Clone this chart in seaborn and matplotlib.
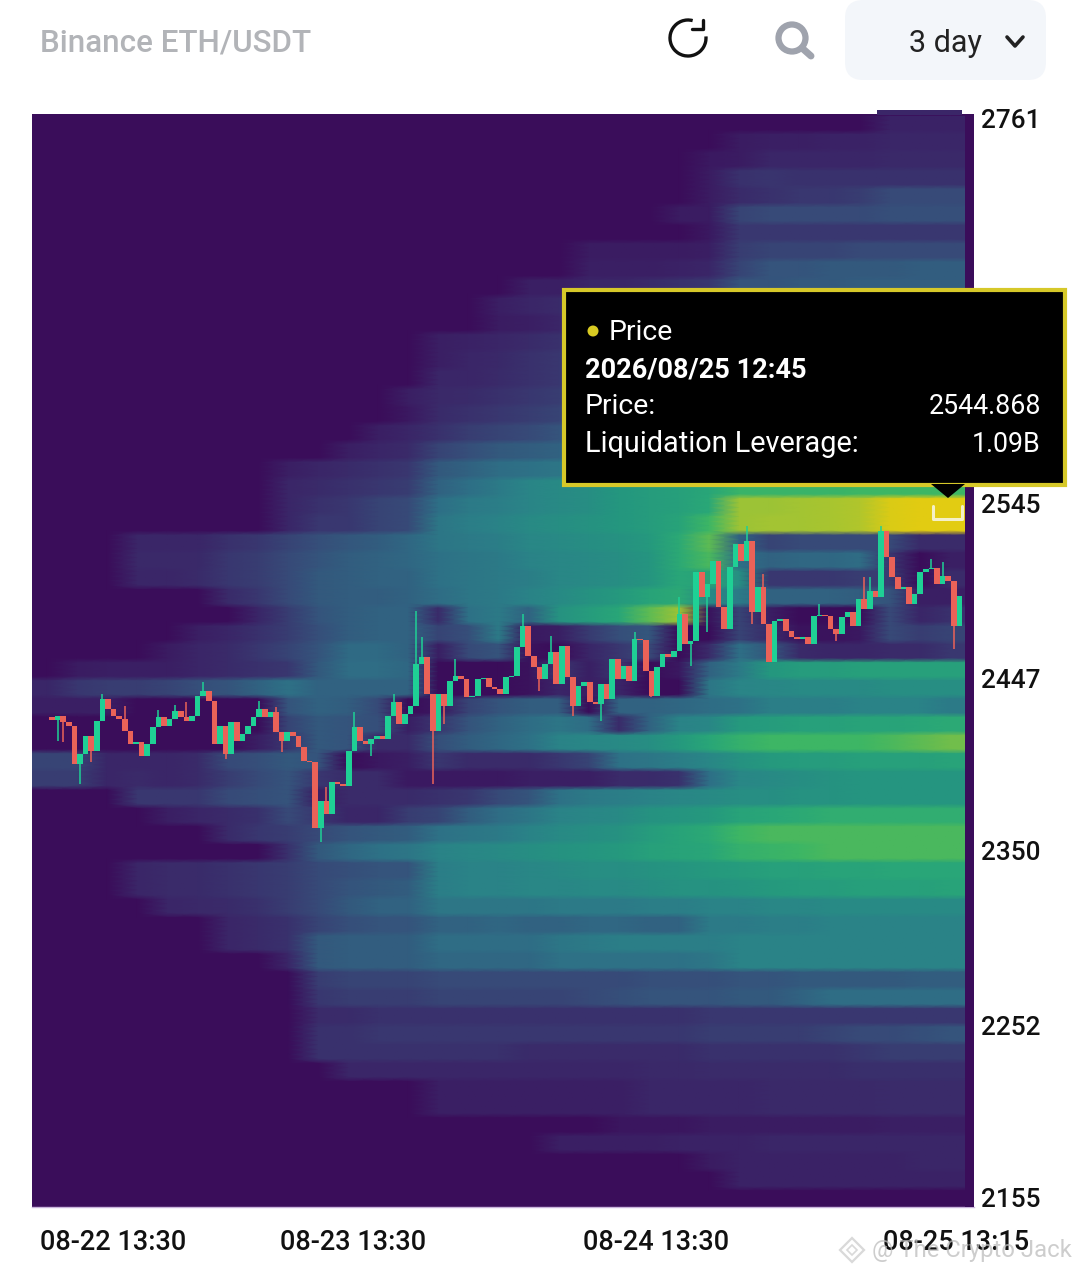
import numpy as np
import pandas as pd
import matplotlib
matplotlib.use("Agg")
import matplotlib.pyplot as plt
import seaborn as sns
from matplotlib.colors import LinearSegmentedColormap
from matplotlib.patches import Arc, Circle, FancyBboxPatch, Polygon, Rectangle

# Liquidation heat, top price band first, about 30 time columns per row (0-100)
heat_rows = [
    [0]*28+[7,7,7],
    [0]*22+[0,5,6,6,7,7,8,8,8],
    [0]*22+[4,5,8,8,8,8,9,9,9],
    [0]*22+[5,12,13,12,12,12,12,12,12],
    [0]*22+[5,10,12,14,14,16,20,20,20],
    [0]*21+[5,5,18,20,20,20,20,22,22,22],
    [0]*21+[0,4,14,14,14,14,14,14,14,14],
    [0]*18+[5,5,5,5,6,16,18,18,18,20,20,20,20],
    [0]*18+[6,6,6,7,8,18,24,24,26,26,26,28,28],
    [0]*16+[6,6,8,8,10,12,14,24,24,26,26,28,28,28,28],
    [0]*15+[6,8,10,12,14,18,20,24,26,26,28,28,28,30,30,30],
    [0]*15+[5,6,8,10,12,16,18,22,24,24,26,28,28,30,30,30],
    [0]*13+[6,7,8,10,12,14,18,20,22,24,26,28,28,28,30,30,30,30],
    [0]*13+[6,8,9,12,14,16,20,22,24,26,28,30,30,30,32,32,32,32],
    [0]*13+[8,8,10,12,14,16,20,22,24,26,28,30,30,30,32,32,32,32],
    [0]*12+[6,9,10,12,14,16,18,20,22,24,26,28,30,30,30,32,32,34,34],
    [0]*12+[4,10,12,14,16,18,20,24,26,26,28,30,32,32,34,34,34,36,36],
    [0]*11+[6,8,12,16,18,20,24,26,28,30,32,34,36,38,38,40,40,42,42,44],
    [0]*10+[6,8,10,18,22,26,28,30,34,38,40,44,46,48,50,50,52,52,54,56,58],
    [0]*8+[6,8,10,12,14,26,30,34,36,38,42,46,52,56,60,62,64,64,66,66,68,68,70],
    [0]*8+[8,10,12,14,16,30,35,40,45,48,50,55,58,60,64,72,72,72,72,74,74,74,74],
    [0]*8+[8,12,14,18,20,35,40,42,45,48,50,55,58,60,65,84,84,85,86,88,98,100,100],
    [0]*8+[8,14,14,18,20,38,42,44,48,50,52,55,58,62,74,84,85,85,86,88,98,100,100],
    [0,0,0,8,8,8,12,14,18,22,25,28,32,38,40,42,46,48,50,52,56,66,78,30,18,20,20,20,20,10,10],
    [0,0,0,9,9,9,14,16,20,24,28,30,32,36,38,40,44,46,48,50,54,66,76,35,30,32,32,34,14,0,6],
    [0,0,0,8,8,10,14,16,20,26,28,30,30,36,38,40,42,46,48,50,54,64,62,50,14,14,14,16,16,0,10],
    [0,0,0,0,0,0,10,14,20,26,28,28,30,34,38,40,44,48,52,56,62,66,48,40,30,30,30,28,24,6,6],
    [0,0,0,0,0,0,0,8,16,24,28,30,30,10,36,40,30,52,58,64,78,84,2,18,6,0,0,0,20,8,12],
    [0,0,0,0,0,6,8,12,16,22,28,30,30,18,22,40,4,6,15,22,25,0,0,18,10,2,2,4,20,16,18],
    [0,0,0,0,5,8,10,14,18,24,33,33,30,6,20,24,2,0,8,14,20,0,10,35,25,10,8,8,10,10,14],
    [0,5,6,6,6,8,10,12,14,26,34,34,32,0,0,0,2,14,6,14,0,4,30,40,55,58,58,60,60,60,60],
    [8,14,16,16,18,22,24,30,36,30,30,30,30,0,0,0,2,8,6,8,0,0,38,45,46,48,48,48,50,50,50],
    [6,6,6,0,0,0,0,0,24,30,28,20,0,4,18,24,28,28,0,30,30,32,34,36,42,42,42,44,44,44,40],
    [0,0,0,0,0,0,0,0,18,26,24,22,6,14,24,30,34,38,34,10,30,44,46,56,58,60,60,62,62,64,66],
    [0,0,0,0,0,0,0,6,14,26,24,10,10,22,28,32,36,44,46,48,50,56,64,70,74,74,74,74,76,78,80],
    [18,18,8,8,8,10,20,22,26,24,0,4,6,14,10,10,10,14,18,36,38,42,46,52,56,58,58,60,60,60,62],
    [16,16,8,10,8,10,16,20,24,14,10,10,4,4,4,4,6,6,6,10,10,12,35,46,48,50,52,54,54,54,54],
    [0,0,0,14,14,14,20,22,24,6,10,10,10,12,14,20,24,36,40,42,44,46,48,50,50,52,52,54,54,54,54],
    [0,0,0,0,6,8,10,12,20,14,8,8,16,18,28,34,38,44,46,48,52,54,56,62,64,66,68,68,68,68,68],
    [0,0,0,0,0,0,10,14,16,20,24,26,28,36,38,40,44,48,50,52,58,62,66,74,76,76,76,76,76,76,76],
    [0,0,0,0,0,0,0,0,12,26,32,36,38,44,46,48,50,52,54,56,60,62,64,70,72,74,76,76,76,76,76],
    [0,0,0,8,10,10,12,14,16,20,22,24,24,42,44,44,46,48,50,50,52,54,56,58,60,60,62,62,64,64,64],
    [0,0,0,8,10,10,12,14,16,20,24,26,28,42,44,44,46,46,48,48,50,52,52,54,56,58,58,60,60,60,62],
    [0,0,0,0,8,9,10,12,16,20,26,30,30,38,38,38,38,40,40,40,42,42,44,44,46,46,48,48,48,48,48],
    [0,0,0,0,0,0,8,10,12,18,22,24,24,30,30,32,30,30,32,32,30,30,40,40,42,42,44,44,44,44,44],
    [0,0,0,0,0,0,8,10,12,26,28,28,28,34,34,34,34,38,40,42,42,42,42,44,44,44,44,44,44,44,44],
    [0,0,0,0,0,0,0,0,8,26,28,28,28,32,32,32,32,36,36,36,36,36,38,44,44,44,44,44,44,44,44],
    [0]*9+[16,18,18,18,20,20,20,20,20,20,20,22,22,22,24,24,26,26,26,26,28,28],
    [0]*9+[14,16,16,16,18,18,18,18,18,20,22,24,24,24,26,26,30,34,34,34,34,34],
    [0]*9+[10,10,12,12,12,12,12,12,12,12,12,12,12,14,14,14,14,14,14,14,14,14],
    [0]*9+[12,12,14,14,14,14,14,14,14,14,14,14,14,16,16,16,16,18,20,20,22,24],
    [0]*9+[12,12,12,12,12,12,12,10,10,10,10,10,10,12,12,12,12,12,14,16,16,16],
    [0]*9+[0,8,8,8,8,8,8,8,8,8,8,9,9,10,10,10,10,10,11,11,11,11],
    [0]*13+[6,6,6,6,6,6,6,8,8,8,8,9,9,9,9,10,10,10],
    [0]*13+[6,6,6,6,6,6,6,8,8,8,8,9,9,9,9,10,10,10],
    [0]*19+[3,3,3,5,5,5,5,5,5,6,6,6],
    [0]*17+[6,6,6,6,7,7,7,8,8,8,8,8,8,8],
    [0]*22+[5,7,7,7,7,7,7,8,8],
    [0]*23+[7,7,7,7,7,7,7,7],
    [0]*31,
]

first_open = 2425
closes = [
    2423.4, 2425.9, 2422.1, 2420.3, 2398.7, 2404.3, 2414.6, 2406.2, 2423.1, 2435.2,
    2429.6, 2425.9, 2424, 2417.5, 2410, 2410.9, 2403.4, 2410, 2419.3, 2425,
    2420.3, 2424, 2428.7, 2425, 2423.1, 2425.9, 2437.1, 2439.9, 2434.3, 2410,
    2420.3, 2404.3, 2422.1, 2411.8, 2415.6, 2420.3, 2425, 2429.6, 2425, 2427.8,
    2416.5, 2411.8, 2416.5, 2414.6, 2408.1, 2400.6, 2400, 2363, 2378.1, 2370.6,
    2388.4, 2387.5, 2386.5, 2406.2, 2419.3, 2411.8, 2409.9, 2412.7, 2414.6, 2412.7,
    2425.8, 2433.3, 2421.2, 2426.8, 2431.5, 2454.9, 2458.6, 2438, 2417.4, 2438,
    2431.5, 2445.5, 2448.3, 2446.4, 2436.1, 2437.1, 2446.4, 2446.8, 2441.8, 2440.8,
    2438, 2447.4, 2448.3, 2464.2, 2476.4, 2459.6, 2453, 2446.4, 2454.9, 2461.4,
    2443.6, 2465.2, 2447.4, 2431.5, 2442.7, 2444.6, 2433.3, 2432.4, 2443.6, 2435.2,
    2457.7, 2446.4, 2453.9, 2445.5, 2468.9, 2468.4, 2451.1, 2437.1, 2453, 2460.5,
    2458.6, 2462.4, 2483, 2466.1, 2468, 2506.4, 2492.3, 2499.8, 2512.9, 2486.7,
    2474.6, 2509.2, 2522.3, 2512.9, 2524.2, 2483.9, 2498, 2477.4, 2455.8, 2479.2,
    2480.2, 2473.6, 2469.9, 2468.9, 2469.9, 2466.1, 2482, 2482.4, 2482, 2474.6,
    2471.7, 2481.1, 2483.9, 2476.4, 2491.4, 2485.8, 2496.1, 2492.3, 2529.8, 2514.8,
    2503.6, 2497, 2498, 2488.6, 2494.2, 2506.4, 2508.3, 2508.8, 2499.8, 2504.5,
    2501.7, 2476.4, 2493.3,
]

# only the wicks that stick out enough to read
wick_candles = [1, 2, 5, 7, 9, 13, 19, 22, 24, 27, 31, 37, 40, 41, 48, 49, 54, 57, 61, 65, 66, 68, 70, 72,
                84, 87, 89, 93, 98, 104, 107, 112, 114, 117, 124, 125, 127, 137, 140, 145, 146, 148, 157, 159, 161]
wick_ends = [2411.8, 2411, 2387.5, 2400, 2438, 2431.5, 2429, 2432, 2433.4, 2444.6, 2401.5, 2434.3, 2431, 2405.3,
             2354.7, 2385.6, 2427.7, 2403.4, 2438, 2484.8, 2469.9, 2387.4, 2421.2, 2457.7,
             2483, 2439.9, 2470.8, 2425.8, 2423, 2472.6, 2436.1, 2492.3, 2453.9, 2472.7, 2532.6, 2477.4,
             2505.5, 2488.6, 2468, 2503.6, 2503.6, 2532.6, 2513.9, 2512, 2463.3]

price_ticks = [2761, 2545, 2447, 2350, 2252, 2155]
time_labels = ["08-22 13:30", "08-23 13:30", "08-24 13:30", "08-25 13:15"]
time_label_candles = [10.9, 53.8, 107.9, 161.4]

heat_levels = [0, 8, 20, 35, 45, 55, 65, 75, 85, 100]
heat_colors = ["#3a0d5a", "#3a2668", "#374a78", "#2e6f86", "#2a8587", "#24977f", "#2aa877", "#3fb763", "#a3c433", "#e2cc12"]

sns.set_theme(style="white")
plt.rcParams["font.family"] = ["Roboto", "DejaVu Sans"]
ink = "#111111"

fig = plt.figure(figsize=(10.8, 12.74), dpi=100, facecolor="white")
box = [32 / 1080, 1 - 1207 / 1274, 942 / 1080, 1093 / 1274]

# heatmap smoothed along time only: each band repeated so gouraud keeps the bands crisp
band_repeat = 4
ax = fig.add_axes(box)
cmap = LinearSegmentedColormap.from_list("liq", [(l / 100, c) for l, c in zip(heat_levels, heat_colors)])
grid = np.repeat(np.array(heat_rows), band_repeat, axis=0)
grid = np.pad(grid, ((0, 0), (1, 1)), mode="edge")
sns.heatmap(pd.DataFrame(grid), ax=ax, cmap=cmap, vmin=0, vmax=100, cbar=False,
            xticklabels=False, yticklabels=False, shading="gouraud")
ax.set_xlim(0.5, 31.8)
ax.set_ylim(len(grid) - 0.5, -0.5)
ax.set_facecolor(heat_colors[0])
ax.set_xlabel("")
ax.set_ylabel("")

# candles on top, in candle number / price
ax2 = fig.add_axes(box, facecolor="none")
opens = [first_open] + closes[:-1]
candles = pd.DataFrame({"open": opens, "close": closes})
candles["color"] = np.where(candles["close"] >= candles["open"], "#1fd095", "#ea6258")
candle_nr = candles.index.to_numpy()
for nr, end in zip(wick_candles, wick_ends):
    ax2.vlines(nr, min(end, candles["open"][nr]), max(end, candles["open"][nr]), color=candles["color"][nr], lw=1.3, alpha=0.85)
ax2.bar(candle_nr, candles["close"] - candles["open"], bottom=candles["open"], width=1.0, color=candles["color"], linewidth=0)
ax2.set_xlim(-3.57, 164.6)
ax2.set_ylim(2149.9, 2763.8)
ax2.yaxis.tick_right()
ax2.set_yticks(price_ticks)
ax2.set_yticklabels([str(p) for p in price_ticks])
ax2.set_xticks(time_label_candles)
ax2.set_xticklabels(time_labels)
ax2.tick_params(axis="y", length=0, pad=5, labelsize=18.8, labelcolor=ink)
ax2.tick_params(axis="x", length=0, pad=16, labelsize=19.5, labelcolor=ink)
for lab in ax2.get_xticklabels() + ax2.get_yticklabels():
    lab.set_fontweight("medium")
for side in ["top", "left", "right"]:
    ax2.spines[side].set_visible(False)
ax2.spines["bottom"].set_color("#c9b4dc")
ax2.spines["bottom"].set_linewidth(1)

# header, tooltip and watermark, placed in picture pixels
ui = fig.add_axes([0, 0, 1, 1], facecolor="none")
ui.set_xlim(0, 1080)
ui.set_ylim(1274, 0)
ui.axis("off")

# empty strip at the right end of the heat
ui.add_patch(Rectangle((965, 114), 9, 1093, fc=heat_colors[0], ec="none"))

ui.text(40, 43, "Binance ETH/USDT", fontsize=22.6, fontweight="medium", color="#b2b4b8", va="center")
ui.add_patch(FancyBboxPatch((857, 12), 177, 56, boxstyle="round,pad=12,rounding_size=18", fc="#f3f6fa", ec="none"))
ui.text(909, 43, "3 day", fontsize=22, color="#222222", va="center")
ui.plot([1007, 1015, 1023], [37, 46, 37], color="#222222", lw=2.6)
ui.add_patch(Arc((688, 38), 36, 36, theta1=-5, theta2=285, ec="#111111", lw=2.4))
ui.plot([692, 703, 703], [29, 29, 20], color="#111111", lw=2.4)
ui.add_patch(Circle((792, 38), 13.5, fc="none", ec="#9fa3ad", lw=4.5))
ui.plot([802, 811], [48, 56], color="#9fa3ad", lw=5)

ui.add_patch(Rectangle((877, 110), 85, 5, fc="#3a2668", ec="none"))

ui.add_patch(Rectangle((564, 290), 501, 195, fc="black", ec="#d6c829", lw=3))
ui.add_patch(Polygon([(931, 484), (965, 484), (948, 498)], fc="black", ec="none"))
ui.add_patch(Circle((593, 331), 5.5, fc="#d8ca22", ec="none"))
ui.text(609, 332, "Price", color="white", fontsize=20.5, va="center")
ui.text(585, 370, "2026/08/25 12:45", color="white", fontsize=19.5, fontweight="bold", va="center")
ui.text(585, 407, "Price:", color="white", fontsize=20.5, va="center")
ui.text(585, 444, "Liquidation Leverage:", color="white", fontsize=20.8, va="center")
ui.text(1041, 407, "2544.868", color="white", fontsize=19.3, ha="right", va="center")
ui.text(1041, 444, "1.09B", color="white", fontsize=19.3, ha="right", va="center")
ui.plot([933, 933, 962, 962], [506, 519, 519, 506], color="#f4f0c8", lw=2.2)

# watermark over the last time label
ui.add_patch(Polygon([(840, 1250), (852, 1238), (864, 1250), (852, 1262)], fc="none", ec="#c9c9c9", lw=1.6, alpha=0.7))
ui.add_patch(Polygon([(847, 1250), (852, 1245), (857, 1250), (852, 1255)], fc="none", ec="#c9c9c9", lw=1.2, alpha=0.7))
ui.text(872, 1250, "@ The Crypto Jack", color="#bdbdbd", fontsize=17.2, va="center", alpha=0.75)

fig.savefig("out.png", dpi=100)
